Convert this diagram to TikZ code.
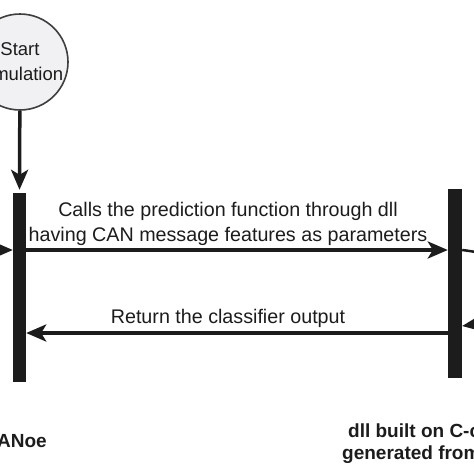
\documentclass[tikz,border=0pt]{standalone}
\usepackage{fontspec}
\setmainfont{Liberation Sans}
\usepackage{xcolor}
\usetikzlibrary{arrows.meta, positioning}
\definecolor{barblack}{RGB}{28, 28, 28}
\definecolor{startfill}{RGB}{241, 241, 243}

\begin{document}
\begin{tikzpicture}[
  x=1pt, y=-1pt,
  every node/.style={font=\fontsize{19.7}{25}\selectfont, text=barblack},
  startnode/.style={circle, draw=barblack!85, line width=1.6pt, fill=startfill, minimum size=96pt, inner sep=0pt, align=center, font=\fontsize{18.5}{25}\selectfont},
  bar/.style={fill=barblack, minimum width=13pt, minimum height=189pt, inner sep=0pt},
  msg/.style={align=center, inner sep=0pt},
  owner/.style={font=\fontsize{19}{22}\selectfont\bfseries, inner sep=0pt, align=left},
  arrow/.style={-{Stealth[length=20pt, width=17pt, inset=5pt]}, line width=3.5pt, color=barblack}
]
  \useasboundingbox (0,0) rectangle (474,474);
  \clip (0,0) rectangle (474,474);

  \node[startnode] (start) at (20, 62) {Start\\Simulation};

  % Lebenslinien
  \node[bar] (lbar) at (19.5, 287.5) {};
  \node[bar, minimum width=14pt] (rbar) at (455, 283.5) {};

  \coordinate (callrow) at (0, 250);
  \coordinate (retrow) at (0, 333);
  \coordinate (backrow) at (0, 326);
  \coordinate (inleft) at (-40, 250);

  \draw[arrow, shorten >=3pt] (start) -- (lbar.north);
  \draw[arrow] (inleft) -- (lbar.west |- callrow);
  \draw[arrow] (lbar.east |- callrow) -- (rbar.west |- callrow);
  \draw[arrow] (rbar.west |- retrow) -- (lbar.east |- retrow);
  \draw[arrow, line width=2.5pt] (rbar.east |- callrow) .. controls (560, 262) and (540, 315) .. (rbar.east |- backrow);

  % Beschriftungen
  \node[msg] (calltxt) at (228, 224.4) {Calls the prediction function through dll\\having CAN message features as parameters};
  \node[msg, anchor=base] (rettxt) at (228, 323) {Return the classifier output};
  \node[owner, anchor=base east] (canoe) at (47, 447) {CANoe};
  \node[owner, anchor=north west] (dll) at (342, 424) {\hspace*{6pt}dll built on C-code\\generated from};

\end{tikzpicture}
\end{document}
